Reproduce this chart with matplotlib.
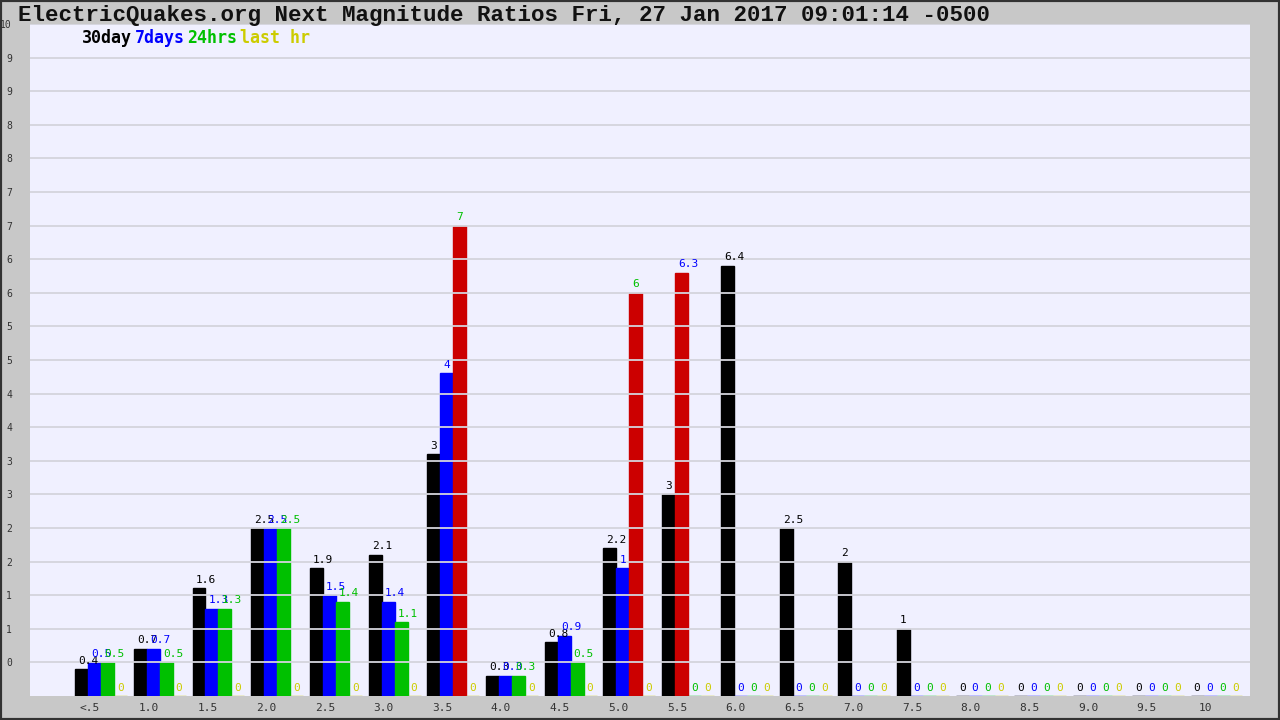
import numpy as np
import matplotlib.pyplot as plt

# magnitude bins
categories = ['<.5', '1.0', '1.5', '2.0', '2.5', '3.0', '3.5', '4.0', '4.5', '5.0',
              '5.5', '6.0', '6.5', '7.0', '7.5', '8.0', '8.5', '9.0', '9.5', '10']

# bar heights
days30 = [0.4, 0.7, 1.6, 2.5, 1.9, 2.1, 3.6, 0.3, 0.8, 2.2, 3.0, 6.4, 2.5, 2.0, 1.0, 0, 0, 0, 0, 0]
days7 = [0.5, 0.7, 1.3, 2.5, 1.5, 1.4, 4.8, 0.3, 0.9, 1.9, 6.3, 0, 0, 0, 0, 0, 0, 0, 0, 0]
hrs24 = [0.5, 0.5, 1.3, 2.5, 1.4, 1.1, 7.0, 0.3, 0.5, 6.0, 0, 0, 0, 0, 0, 0, 0, 0, 0, 0]
lasthr = [0] * 20

# value labels as printed on the chart
lab30 = ['0.4', '0.7', '1.6', '2.5', '1.9', '2.1', '3', '0.3', '0.8', '2.2', '3', '6.4', '2.5', '2', '1',
         '0', '0', '0', '0', '0']
lab7 = ['0.5', '0.7', '1.3', '2.5', '1.5', '1.4', '4', '0.3', '0.9', '1', '6.3', '0', '0', '0', '0',
        '0', '0', '0', '0', '0']
lab24 = ['0.5', '0.5', '1.3', '2.5', '1.4', '1.1', '7', '0.3', '0.5', '6', '0', '0', '0', '0', '0',
         '0', '0', '0', '0', '0']
labhr = ['0'] * 20

series = [days30, days7, hrs24, lasthr]
labels = [lab30, lab7, lab24, labhr]
names = ['30day', '7days', '24hrs', 'last hr']
colors = ['#000000', '#0000ff', '#00c000', '#cccc00']
alert = '#cc0000'

fig = plt.figure(figsize=(12.8, 7.2), dpi=100, facecolor='#c8c8c8')
ax = fig.add_axes([30/1280, 24/720, 1220/1280, 672/720])
ax.set_facecolor('#f0f0ff')

x = np.arange(len(categories))
w = 0.221
for k, (vals, labs, col) in enumerate(zip(series, labels, colors)):
    xs = x + (k - 1.5) * w
    bc = [alert if (k in (1, 2) and v > 5) else col for v in vals]
    ax.bar(xs, vals, width=w, color=bc, edgecolor=bc, linewidth=1, zorder=1)
    for xi, v, t in zip(xs, vals, labs):
        # jpgraph-ish placement: text starts just left of the bar centre
        ax.annotate(t, (xi, v), xytext=(-2.5, 2.5), textcoords='offset points',
                    ha='left', va='bottom', fontsize=8, color=col,
                    family='DejaVu Sans Mono', zorder=3)

yt = np.arange(0.5, 10.01, 0.5)
ax.set_yticks(yt)
ax.set_yticklabels([str(int(np.floor(v))) for v in yt], fontsize=7,
                   family='DejaVu Sans Mono', color='#333333')
ax.yaxis.grid(True, color='#d4d4dc', linewidth=1.3, zorder=2)
ax.set_axisbelow(False)
ax.set_ylim(0, 10)

ax.set_xticks(x - 0.187)
ax.set_xticklabels(categories, fontsize=8, family='DejaVu Sans Mono', color='#333333')
ax.set_xlim(-1.21, 19.57)
ax.tick_params(length=0, pad=5)
ax.tick_params(axis='y', pad=13)
for s in ax.spines.values():
    s.set_visible(False)

fig.text(18/1280, 1 - 15/720, 'ElectricQuakes.org Next Magnitude Ratios Fri, 27 Jan 2017 09:01:14 -0500',
         fontsize=16.2, family='Liberation Mono', weight='bold', color='#111111',
         va='center', ha='left')

# legend drawn as a run of coloured words
xpos = 82
for n, c in zip(names, colors):
    fig.text(xpos/1280, 1 - 38/720, n, fontsize=12, family='DejaVu Sans Mono',
             weight='bold', color=c, va='center', ha='left')
    xpos += len(n) * 10.5

fig.patches.append(plt.Rectangle((0, 0), 1, 1, transform=fig.transFigure, fill=False,
                                 edgecolor='#333333', linewidth=3))
fig.savefig('out.png', dpi=100, facecolor=fig.get_facecolor())
